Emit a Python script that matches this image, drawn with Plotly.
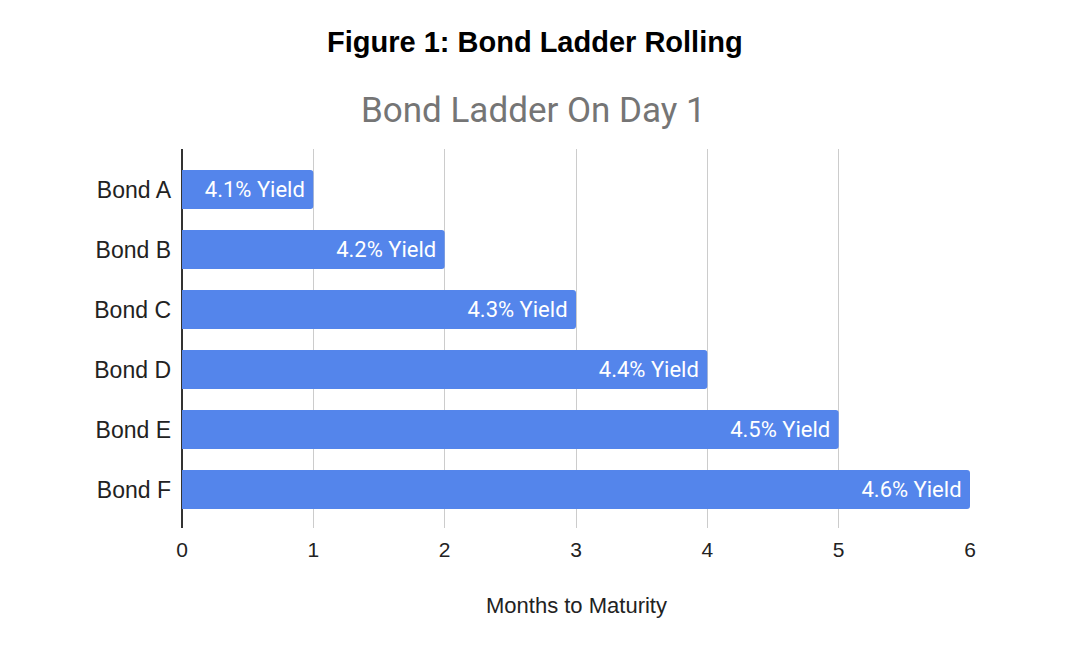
import plotly.graph_objects as go

# data
bonds = ["Bond A", "Bond B", "Bond C", "Bond D", "Bond E", "Bond F"]
months = [1, 2, 3, 4, 5, 6]
yields = ["4.1% Yield", "4.2% Yield", "4.3% Yield", "4.4% Yield", "4.5% Yield", "4.6% Yield"]
x_ticks = [0, 1, 2, 3, 4, 5, 6]

W, H = 1090, 648
L, R, T, B = 174, 128, 141, 128
OFF = 8  # page body margin


def px(xs, ys):
    # screen pixel -> paper coords
    return (xs - L - OFF) / (W - L - R), (H - B + OFF - ys) / (H - T - B)


fig = go.Figure()
fig.add_bar(
    y=bonds, x=months, orientation="h",
    text=[t + "\u00a0" for t in yields], textposition="inside", insidetextanchor="end",
    textfont=dict(family="Roboto", size=22, color="white"),
    marker=dict(color="#5485eb", cornerradius=3, line_width=0),
    hoverinfo="skip",
)

notes = [
    ("<b>Figure 1: Bond Ladder Rolling</b>", 535, 42, "Liberation Sans", 29, "black"),
    ("Bond Ladder On Day 1", 533, 110, "Roboto", 35, "#757575"),
    ("Months to Maturity", 576, 605, "Liberation Sans", 22, "#222222"),
]
ann = []
for txt, xs, ys, fam, sz, col in notes:
    x, y = px(xs, ys)
    ann.append(dict(text=txt, x=x, y=y, xref="paper", yref="paper", showarrow=False,
                    xanchor="center", yanchor="middle",
                    font=dict(family=fam, size=sz, color=col)))

fig.update_layout(
    width=W, height=H,
    margin=dict(l=L, r=R, t=T, b=B),
    plot_bgcolor="white", paper_bgcolor="white",
    bargap=0.35, showlegend=False,
    font=dict(family="Liberation Sans", size=22, color="#222222"),
    annotations=ann,
)

fig.update_xaxes(
    range=[0, 6], tickvals=x_ticks, showgrid=True, gridcolor="#cccccc", gridwidth=1,
    zeroline=True, zerolinecolor="#333333", zerolinewidth=1.5,
    showline=False, ticks="", ticklabelstandoff=7, tickfont=dict(size=21, color="#222222"),
)
fig.update_yaxes(
    range=[5.64, -0.675], showgrid=False, ticks="", ticklabelstandoff=10,
    tickfont=dict(size=23, color="#222222"),
)

fig.write_html("out.html")
